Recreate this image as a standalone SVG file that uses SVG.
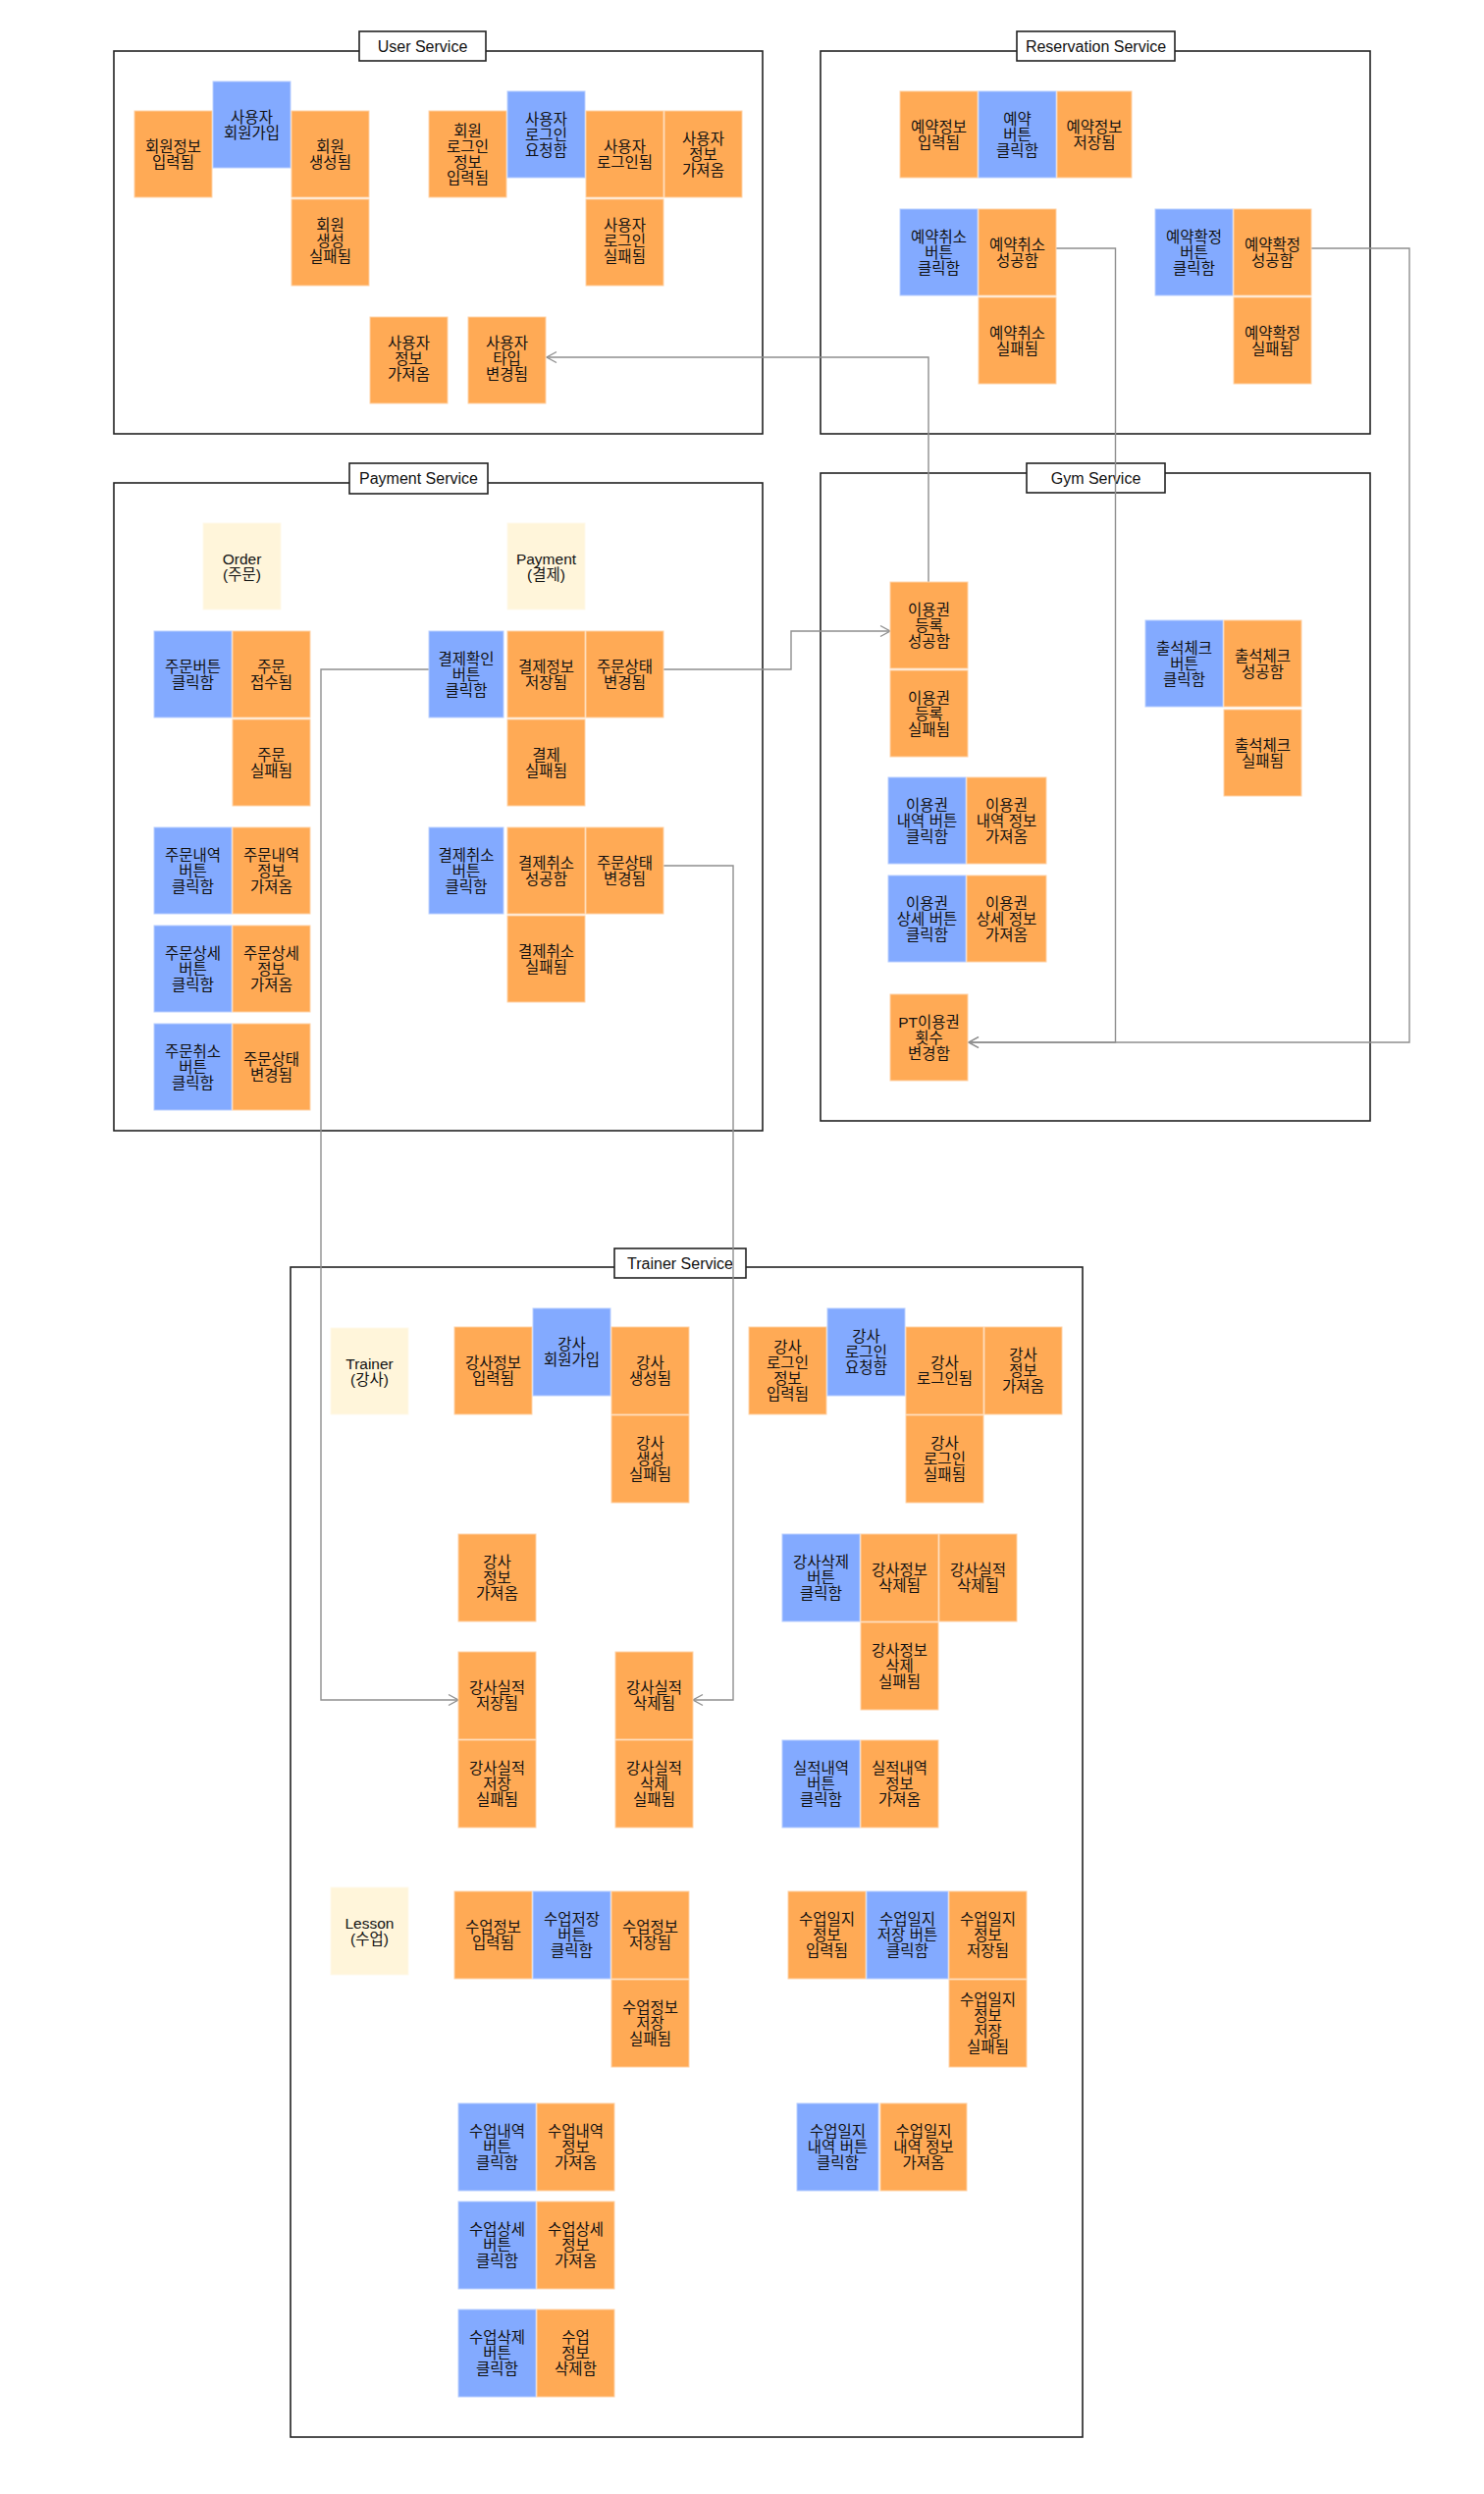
<svg xmlns="http://www.w3.org/2000/svg" width="1512" height="2541" viewBox="0 0 1512 2541">
<style>
.frame{fill:none;stroke:#222;stroke-width:1.6}
.lbl{fill:#fff;stroke:#222;stroke-width:1.6}
.lt{font-family:"Liberation Sans","Noto Sans CJK KR",sans-serif;font-size:16px;fill:#111;text-anchor:middle;dominant-baseline:central}
.o{fill:#FFAA55;stroke:#FFD2A6;stroke-width:1}
.b{fill:#83AAFF;stroke:#B9CFFF;stroke-width:1}
.l{fill:#FFF5DA;stroke:#FFF9EA;stroke-width:1}
.t{font-family:"Liberation Sans","Noto Sans CJK KR",sans-serif;font-size:15.5px;fill:#111;text-anchor:middle;dominant-baseline:central}
.c{fill:none;stroke:#8F8F8F;stroke-width:1.4;marker-end:url(#arr)}
</style>
<defs>
<marker id="arr" markerWidth="14" markerHeight="14" refX="11" refY="7" orient="auto" markerUnits="userSpaceOnUse">
<path d="M1,1.5 L11,7 L1,12.5" fill="none" stroke="#8F8F8F" stroke-width="1.4"/>
</marker>
</defs>
<rect width="1512" height="2541" fill="#fff"/>

<!-- Frames -->
<g id="frames">
<rect class="frame" x="116" y="52" width="661" height="390"/>
<rect class="lbl" x="366" y="32" width="129" height="30"/>
<text class="lt" x="430.5" y="47">User Service</text>

<rect class="frame" x="836" y="52" width="560" height="390"/>
<rect class="lbl" x="1036" y="32" width="161" height="30"/>
<text class="lt" x="1116.5" y="47">Reservation Service</text>

<rect class="frame" x="116" y="492" width="661" height="660"/>
<rect class="lbl" x="356" y="472" width="141" height="31"/>
<text class="lt" x="426.5" y="487.5">Payment Service</text>

<rect class="frame" x="836" y="482" width="560" height="660"/>
<rect class="lbl" x="1046" y="472" width="141" height="30"/>
<text class="lt" x="1116.5" y="487">Gym Service</text>

<rect class="frame" x="296" y="1291" width="807" height="1192"/>
<rect class="lbl" x="626" y="1272" width="134" height="30"/>
<text class="lt" x="693" y="1287">Trainer Service</text>
</g>

<!-- Connectors -->
<g id="connectors">
<path class="c" d="M946,593 V364 H557"/>
<path class="c" d="M1076,253 H1136.5 V1062 H987"/>
<path class="c" d="M1336,253 H1436 V1062 H987"/>
<path class="c" d="M676,682 H806 V643 H907"/>
<path class="c" d="M437,682 H327 V1732 H467"/>
<path class="c" d="M676,882 H747 V1732 H706"/>
</g>

<!-- User Service -->
<g id="u1"><rect class="o" x="137" y="113" width="79" height="88"/><text class="t"><tspan x="176.5" y="149">회원정보</tspan><tspan x="176.5" y="165">입력됨</tspan></text></g>
<g id="u2"><rect class="b" x="217" y="83" width="79" height="88"/><text class="t"><tspan x="256.5" y="119">사용자</tspan><tspan x="256.5" y="135">회원가입</tspan></text></g>
<g id="u3"><rect class="o" x="297" y="113" width="79" height="88"/><text class="t"><tspan x="336.5" y="149">회원</tspan><tspan x="336.5" y="165">생성됨</tspan></text></g>
<g id="u4"><rect class="o" x="297" y="203" width="79" height="88"/><text class="t"><tspan x="336.5" y="229">회원</tspan><tspan x="336.5" y="245">생성</tspan><tspan x="336.5" y="261">실패됨</tspan></text></g>
<g id="u5"><rect class="o" x="437" y="113" width="79" height="88"/><text class="t"><tspan x="476.5" y="133">회원</tspan><tspan x="476.5" y="149">로그인</tspan><tspan x="476.5" y="165">정보</tspan><tspan x="476.5" y="181">입력됨</tspan></text></g>
<g id="u6"><rect class="b" x="517" y="93" width="79" height="88"/><text class="t"><tspan x="556.5" y="121">사용자</tspan><tspan x="556.5" y="137">로그인</tspan><tspan x="556.5" y="153">요청함</tspan></text></g>
<g id="u7"><rect class="o" x="597" y="113" width="79" height="88"/><text class="t"><tspan x="636.5" y="149">사용자</tspan><tspan x="636.5" y="165">로그인됨</tspan></text></g>
<g id="u8"><rect class="o" x="677" y="113" width="79" height="88"/><text class="t"><tspan x="716.5" y="141">사용자</tspan><tspan x="716.5" y="157">정보</tspan><tspan x="716.5" y="173">가져옴</tspan></text></g>
<g id="u9"><rect class="o" x="597" y="203" width="79" height="88"/><text class="t"><tspan x="636.5" y="229">사용자</tspan><tspan x="636.5" y="245">로그인</tspan><tspan x="636.5" y="261">실패됨</tspan></text></g>
<g id="u10"><rect class="o" x="377" y="323" width="79" height="88"/><text class="t"><tspan x="416.5" y="349">사용자</tspan><tspan x="416.5" y="365">정보</tspan><tspan x="416.5" y="381">가져옴</tspan></text></g>
<g id="u11"><rect class="o" x="477" y="323" width="79" height="88"/><text class="t"><tspan x="516.5" y="349">사용자</tspan><tspan x="516.5" y="365">타입</tspan><tspan x="516.5" y="381">변경됨</tspan></text></g>

<!-- Reservation Service -->
<g id="r1"><rect class="o" x="917" y="93" width="79" height="88"/><text class="t"><tspan x="956.5" y="129">예약정보</tspan><tspan x="956.5" y="145">입력됨</tspan></text></g>
<g id="r2"><rect class="b" x="997" y="93" width="79" height="88"/><text class="t"><tspan x="1036.5" y="121">예약</tspan><tspan x="1036.5" y="137">버튼</tspan><tspan x="1036.5" y="153">클릭함</tspan></text></g>
<g id="r3"><rect class="o" x="1077" y="93" width="76" height="88"/><text class="t"><tspan x="1115" y="129">예약정보</tspan><tspan x="1115" y="145">저장됨</tspan></text></g>
<g id="r4"><rect class="b" x="917" y="213" width="79" height="88"/><text class="t"><tspan x="956.5" y="241">예약취소</tspan><tspan x="956.5" y="257">버튼</tspan><tspan x="956.5" y="273">클릭함</tspan></text></g>
<g id="r5"><rect class="o" x="997" y="213" width="79" height="88"/><text class="t"><tspan x="1036.5" y="249">예약취소</tspan><tspan x="1036.5" y="265">성공함</tspan></text></g>
<g id="r6"><rect class="o" x="997" y="303" width="79" height="88"/><text class="t"><tspan x="1036.5" y="339">예약취소</tspan><tspan x="1036.5" y="355">실패됨</tspan></text></g>
<g id="r7"><rect class="b" x="1177" y="213" width="79" height="88"/><text class="t"><tspan x="1216.5" y="241">예약확정</tspan><tspan x="1216.5" y="257">버튼</tspan><tspan x="1216.5" y="273">클릭함</tspan></text></g>
<g id="r8"><rect class="o" x="1257" y="213" width="79" height="88"/><text class="t"><tspan x="1296.5" y="249">예약확정</tspan><tspan x="1296.5" y="265">성공함</tspan></text></g>
<g id="r9"><rect class="o" x="1257" y="303" width="79" height="88"/><text class="t"><tspan x="1296.5" y="339">예약확정</tspan><tspan x="1296.5" y="355">실패됨</tspan></text></g>

<!-- Payment Service -->
<g id="p0"><rect class="l" x="207" y="533" width="79" height="88"/><text class="t"><tspan x="246.5" y="569">Order</tspan><tspan x="246.5" y="585">(주문)</tspan></text></g>
<g id="p00"><rect class="l" x="517" y="533" width="79" height="88"/><text class="t"><tspan x="556.5" y="569">Payment</tspan><tspan x="556.5" y="585">(결제)</tspan></text></g>
<g id="p1"><rect class="b" x="157" y="643" width="79" height="88"/><text class="t"><tspan x="196.5" y="679">주문버튼</tspan><tspan x="196.5" y="695">클릭함</tspan></text></g>
<g id="p2"><rect class="o" x="237" y="643" width="79" height="88"/><text class="t"><tspan x="276.5" y="679">주문</tspan><tspan x="276.5" y="695">접수됨</tspan></text></g>
<g id="p3"><rect class="o" x="237" y="733" width="79" height="88"/><text class="t"><tspan x="276.5" y="769">주문</tspan><tspan x="276.5" y="785">실패됨</tspan></text></g>
<g id="p4"><rect class="b" x="437" y="643" width="76" height="88"/><text class="t"><tspan x="475" y="671">결제확인</tspan><tspan x="475" y="687">버튼</tspan><tspan x="475" y="703">클릭함</tspan></text></g>
<g id="p5"><rect class="o" x="517" y="643" width="79" height="88"/><text class="t"><tspan x="556.5" y="679">결제정보</tspan><tspan x="556.5" y="695">저장됨</tspan></text></g>
<g id="p6"><rect class="o" x="597" y="643" width="79" height="88"/><text class="t"><tspan x="636.5" y="679">주문상태</tspan><tspan x="636.5" y="695">변경됨</tspan></text></g>
<g id="p7"><rect class="o" x="517" y="733" width="79" height="88"/><text class="t"><tspan x="556.5" y="769">결제</tspan><tspan x="556.5" y="785">실패됨</tspan></text></g>
<g id="p8"><rect class="b" x="157" y="843" width="79" height="88"/><text class="t"><tspan x="196.5" y="871">주문내역</tspan><tspan x="196.5" y="887">버튼</tspan><tspan x="196.5" y="903">클릭함</tspan></text></g>
<g id="p9"><rect class="o" x="237" y="843" width="79" height="88"/><text class="t"><tspan x="276.5" y="871">주문내역</tspan><tspan x="276.5" y="887">정보</tspan><tspan x="276.5" y="903">가져옴</tspan></text></g>
<g id="p10"><rect class="b" x="437" y="843" width="76" height="88"/><text class="t"><tspan x="475" y="871">결제취소</tspan><tspan x="475" y="887">버튼</tspan><tspan x="475" y="903">클릭함</tspan></text></g>
<g id="p11"><rect class="o" x="517" y="843" width="79" height="88"/><text class="t"><tspan x="556.5" y="879">결제취소</tspan><tspan x="556.5" y="895">성공함</tspan></text></g>
<g id="p12"><rect class="o" x="597" y="843" width="79" height="88"/><text class="t"><tspan x="636.5" y="879">주문상태</tspan><tspan x="636.5" y="895">변경됨</tspan></text></g>
<g id="p13"><rect class="o" x="517" y="933" width="79" height="88"/><text class="t"><tspan x="556.5" y="969">결제취소</tspan><tspan x="556.5" y="985">실패됨</tspan></text></g>
<g id="p14"><rect class="b" x="157" y="943" width="79" height="88"/><text class="t"><tspan x="196.5" y="971">주문상세</tspan><tspan x="196.5" y="987">버튼</tspan><tspan x="196.5" y="1003">클릭함</tspan></text></g>
<g id="p15"><rect class="o" x="237" y="943" width="79" height="88"/><text class="t"><tspan x="276.5" y="971">주문상세</tspan><tspan x="276.5" y="987">정보</tspan><tspan x="276.5" y="1003">가져옴</tspan></text></g>
<g id="p16"><rect class="b" x="157" y="1043" width="79" height="88"/><text class="t"><tspan x="196.5" y="1071">주문취소</tspan><tspan x="196.5" y="1087">버튼</tspan><tspan x="196.5" y="1103">클릭함</tspan></text></g>
<g id="p17"><rect class="o" x="237" y="1043" width="79" height="88"/><text class="t"><tspan x="276.5" y="1079">주문상태</tspan><tspan x="276.5" y="1095">변경됨</tspan></text></g>

<!-- Gym Service -->
<g id="g1"><rect class="o" x="907" y="593" width="79" height="88"/><text class="t"><tspan x="946.5" y="621">이용권</tspan><tspan x="946.5" y="637">등록</tspan><tspan x="946.5" y="653">성공함</tspan></text></g>
<g id="g2"><rect class="o" x="907" y="683" width="79" height="88"/><text class="t"><tspan x="946.5" y="711">이용권</tspan><tspan x="946.5" y="727">등록</tspan><tspan x="946.5" y="743">실패됨</tspan></text></g>
<g id="g3"><rect class="b" x="1167" y="632" width="79" height="88"/><text class="t"><tspan x="1206.5" y="660">출석체크</tspan><tspan x="1206.5" y="676">버튼</tspan><tspan x="1206.5" y="692">클릭함</tspan></text></g>
<g id="g4"><rect class="o" x="1247" y="632" width="79" height="88"/><text class="t"><tspan x="1286.5" y="668">출석체크</tspan><tspan x="1286.5" y="684">성공함</tspan></text></g>
<g id="g5"><rect class="o" x="1247" y="723" width="79" height="88"/><text class="t"><tspan x="1286.5" y="759">출석체크</tspan><tspan x="1286.5" y="775">실패됨</tspan></text></g>
<g id="g6"><rect class="b" x="905" y="792" width="79" height="88"/><text class="t"><tspan x="944.5" y="820">이용권</tspan><tspan x="944.5" y="836">내역 버튼</tspan><tspan x="944.5" y="852">클릭함</tspan></text></g>
<g id="g7"><rect class="o" x="985" y="792" width="81" height="88"/><text class="t"><tspan x="1025.5" y="820">이용권</tspan><tspan x="1025.5" y="836">내역 정보</tspan><tspan x="1025.5" y="852">가져옴</tspan></text></g>
<g id="g8"><rect class="b" x="905" y="892" width="79" height="88"/><text class="t"><tspan x="944.5" y="920">이용권</tspan><tspan x="944.5" y="936">상세 버튼</tspan><tspan x="944.5" y="952">클릭함</tspan></text></g>
<g id="g9"><rect class="o" x="985" y="892" width="81" height="88"/><text class="t"><tspan x="1025.5" y="920">이용권</tspan><tspan x="1025.5" y="936">상세 정보</tspan><tspan x="1025.5" y="952">가져옴</tspan></text></g>
<g id="g10"><rect class="o" x="907" y="1013" width="79" height="88"/><text class="t"><tspan x="946.5" y="1041">PT이용권</tspan><tspan x="946.5" y="1057">횟수</tspan><tspan x="946.5" y="1073">변경함</tspan></text></g>

<!-- Trainer Service -->
<g id="t0"><rect class="l" x="337" y="1353" width="79" height="88"/><text class="t"><tspan x="376.5" y="1389">Trainer</tspan><tspan x="376.5" y="1405">(강사)</tspan></text></g>
<g id="t1"><rect class="o" x="463" y="1352" width="79" height="89"/><text class="t"><tspan x="502.5" y="1388">강사정보</tspan><tspan x="502.5" y="1404">입력됨</tspan></text></g>
<g id="t2"><rect class="b" x="543" y="1333" width="79" height="89"/><text class="t"><tspan x="582.5" y="1369">강사</tspan><tspan x="582.5" y="1385">회원가입</tspan></text></g>
<g id="t3"><rect class="o" x="623" y="1352" width="79" height="89"/><text class="t"><tspan x="662.5" y="1388">강사</tspan><tspan x="662.5" y="1404">생성됨</tspan></text></g>
<g id="t4"><rect class="o" x="623" y="1442" width="79" height="89"/><text class="t"><tspan x="662.5" y="1470">강사</tspan><tspan x="662.5" y="1486">생성</tspan><tspan x="662.5" y="1502">실패됨</tspan></text></g>
<g id="t5"><rect class="o" x="763" y="1352" width="79" height="89"/><text class="t"><tspan x="802.5" y="1372">강사</tspan><tspan x="802.5" y="1388">로그인</tspan><tspan x="802.5" y="1404">정보</tspan><tspan x="802.5" y="1420">입력됨</tspan></text></g>
<g id="t6"><rect class="b" x="843" y="1333" width="79" height="89"/><text class="t"><tspan x="882.5" y="1361">강사</tspan><tspan x="882.5" y="1377">로그인</tspan><tspan x="882.5" y="1393">요청함</tspan></text></g>
<g id="t7"><rect class="o" x="923" y="1352" width="79" height="89"/><text class="t"><tspan x="962.5" y="1388">강사</tspan><tspan x="962.5" y="1404">로그인됨</tspan></text></g>
<g id="t8"><rect class="o" x="1003" y="1352" width="79" height="89"/><text class="t"><tspan x="1042.5" y="1380">강사</tspan><tspan x="1042.5" y="1396">정보</tspan><tspan x="1042.5" y="1412">가져옴</tspan></text></g>
<g id="t9"><rect class="o" x="923" y="1442" width="79" height="89"/><text class="t"><tspan x="962.5" y="1470">강사</tspan><tspan x="962.5" y="1486">로그인</tspan><tspan x="962.5" y="1502">실패됨</tspan></text></g>
<g id="t10"><rect class="o" x="467" y="1563" width="79" height="89"/><text class="t"><tspan x="506.5" y="1591">강사</tspan><tspan x="506.5" y="1607">정보</tspan><tspan x="506.5" y="1623">가져옴</tspan></text></g>
<g id="t11"><rect class="b" x="797" y="1563" width="79" height="89"/><text class="t"><tspan x="836.5" y="1591">강사삭제</tspan><tspan x="836.5" y="1607">버튼</tspan><tspan x="836.5" y="1623">클릭함</tspan></text></g>
<g id="t12"><rect class="o" x="877" y="1563" width="79" height="89"/><text class="t"><tspan x="916.5" y="1599">강사정보</tspan><tspan x="916.5" y="1615">삭제됨</tspan></text></g>
<g id="t13"><rect class="o" x="957" y="1563" width="79" height="89"/><text class="t"><tspan x="996.5" y="1599">강사실적</tspan><tspan x="996.5" y="1615">삭제됨</tspan></text></g>
<g id="t14"><rect class="o" x="877" y="1653" width="79" height="89"/><text class="t"><tspan x="916.5" y="1681">강사정보</tspan><tspan x="916.5" y="1697">삭제</tspan><tspan x="916.5" y="1713">실패됨</tspan></text></g>
<g id="t15"><rect class="o" x="467" y="1683" width="79" height="89"/><text class="t"><tspan x="506.5" y="1719">강사실적</tspan><tspan x="506.5" y="1735">저장됨</tspan></text></g>
<g id="t16"><rect class="o" x="467" y="1773" width="79" height="89"/><text class="t"><tspan x="506.5" y="1801">강사실적</tspan><tspan x="506.5" y="1817">저장</tspan><tspan x="506.5" y="1833">실패됨</tspan></text></g>
<g id="t17"><rect class="o" x="627" y="1683" width="79" height="89"/><text class="t"><tspan x="666.5" y="1719">강사실적</tspan><tspan x="666.5" y="1735">삭제됨</tspan></text></g>
<g id="t18"><rect class="o" x="627" y="1773" width="79" height="89"/><text class="t"><tspan x="666.5" y="1801">강사실적</tspan><tspan x="666.5" y="1817">삭제</tspan><tspan x="666.5" y="1833">실패됨</tspan></text></g>
<g id="t19"><rect class="b" x="797" y="1773" width="79" height="89"/><text class="t"><tspan x="836.5" y="1801">실적내역</tspan><tspan x="836.5" y="1817">버튼</tspan><tspan x="836.5" y="1833">클릭함</tspan></text></g>
<g id="t20"><rect class="o" x="877" y="1773" width="79" height="89"/><text class="t"><tspan x="916.5" y="1801">실적내역</tspan><tspan x="916.5" y="1817">정보</tspan><tspan x="916.5" y="1833">가져옴</tspan></text></g>

<g id="s0"><rect class="l" x="337" y="1923" width="79" height="89"/><text class="t"><tspan x="376.5" y="1959">Lesson</tspan><tspan x="376.5" y="1975">(수업)</tspan></text></g>
<g id="s1"><rect class="o" x="463" y="1927" width="79" height="89"/><text class="t"><tspan x="502.5" y="1963">수업정보</tspan><tspan x="502.5" y="1979">입력됨</tspan></text></g>
<g id="s2"><rect class="b" x="543" y="1927" width="79" height="89"/><text class="t"><tspan x="582.5" y="1955">수업저장</tspan><tspan x="582.5" y="1971">버튼</tspan><tspan x="582.5" y="1987">클릭함</tspan></text></g>
<g id="s3"><rect class="o" x="623" y="1927" width="79" height="89"/><text class="t"><tspan x="662.5" y="1963">수업정보</tspan><tspan x="662.5" y="1979">저장됨</tspan></text></g>
<g id="s4"><rect class="o" x="623" y="2017" width="79" height="89"/><text class="t"><tspan x="662.5" y="2045">수업정보</tspan><tspan x="662.5" y="2061">저장</tspan><tspan x="662.5" y="2077">실패됨</tspan></text></g>
<g id="s5"><rect class="o" x="803" y="1927" width="79" height="89"/><text class="t"><tspan x="842.5" y="1955">수업일지</tspan><tspan x="842.5" y="1971">정보</tspan><tspan x="842.5" y="1987">입력됨</tspan></text></g>
<g id="s6"><rect class="b" x="883" y="1927" width="83" height="89"/><text class="t"><tspan x="924.5" y="1955">수업일지</tspan><tspan x="924.5" y="1971">저장 버튼</tspan><tspan x="924.5" y="1987">클릭함</tspan></text></g>
<g id="s7"><rect class="o" x="967" y="1927" width="79" height="89"/><text class="t"><tspan x="1006.5" y="1955">수업일지</tspan><tspan x="1006.5" y="1971">정보</tspan><tspan x="1006.5" y="1987">저장됨</tspan></text></g>
<g id="s8"><rect class="o" x="967" y="2017" width="79" height="89"/><text class="t"><tspan x="1006.5" y="2037">수업일지</tspan><tspan x="1006.5" y="2053">정보</tspan><tspan x="1006.5" y="2069">저장</tspan><tspan x="1006.5" y="2085">실패됨</tspan></text></g>
<g id="s9"><rect class="b" x="467" y="2143" width="79" height="89"/><text class="t"><tspan x="506.5" y="2171">수업내역</tspan><tspan x="506.5" y="2187">버튼</tspan><tspan x="506.5" y="2203">클릭함</tspan></text></g>
<g id="s10"><rect class="o" x="547" y="2143" width="79" height="89"/><text class="t"><tspan x="586.5" y="2171">수업내역</tspan><tspan x="586.5" y="2187">정보</tspan><tspan x="586.5" y="2203">가져옴</tspan></text></g>
<g id="s11"><rect class="b" x="467" y="2243" width="79" height="89"/><text class="t"><tspan x="506.5" y="2271">수업상세</tspan><tspan x="506.5" y="2287">버튼</tspan><tspan x="506.5" y="2303">클릭함</tspan></text></g>
<g id="s12"><rect class="o" x="547" y="2243" width="79" height="89"/><text class="t"><tspan x="586.5" y="2271">수업상세</tspan><tspan x="586.5" y="2287">정보</tspan><tspan x="586.5" y="2303">가져옴</tspan></text></g>
<g id="s13"><rect class="b" x="467" y="2353" width="79" height="89"/><text class="t"><tspan x="506.5" y="2381">수업삭제</tspan><tspan x="506.5" y="2397">버튼</tspan><tspan x="506.5" y="2413">클릭함</tspan></text></g>
<g id="s14"><rect class="o" x="547" y="2353" width="79" height="89"/><text class="t"><tspan x="586.5" y="2381">수업</tspan><tspan x="586.5" y="2397">정보</tspan><tspan x="586.5" y="2413">삭제함</tspan></text></g>
<g id="s15"><rect class="b" x="812" y="2143" width="83" height="89"/><text class="t"><tspan x="853.5" y="2171">수업일지</tspan><tspan x="853.5" y="2187">내역 버튼</tspan><tspan x="853.5" y="2203">클릭함</tspan></text></g>
<g id="s16"><rect class="o" x="897" y="2143" width="88" height="89"/><text class="t"><tspan x="941" y="2171">수업일지</tspan><tspan x="941" y="2187">내역 정보</tspan><tspan x="941" y="2203">가져옴</tspan></text></g>
</svg>
